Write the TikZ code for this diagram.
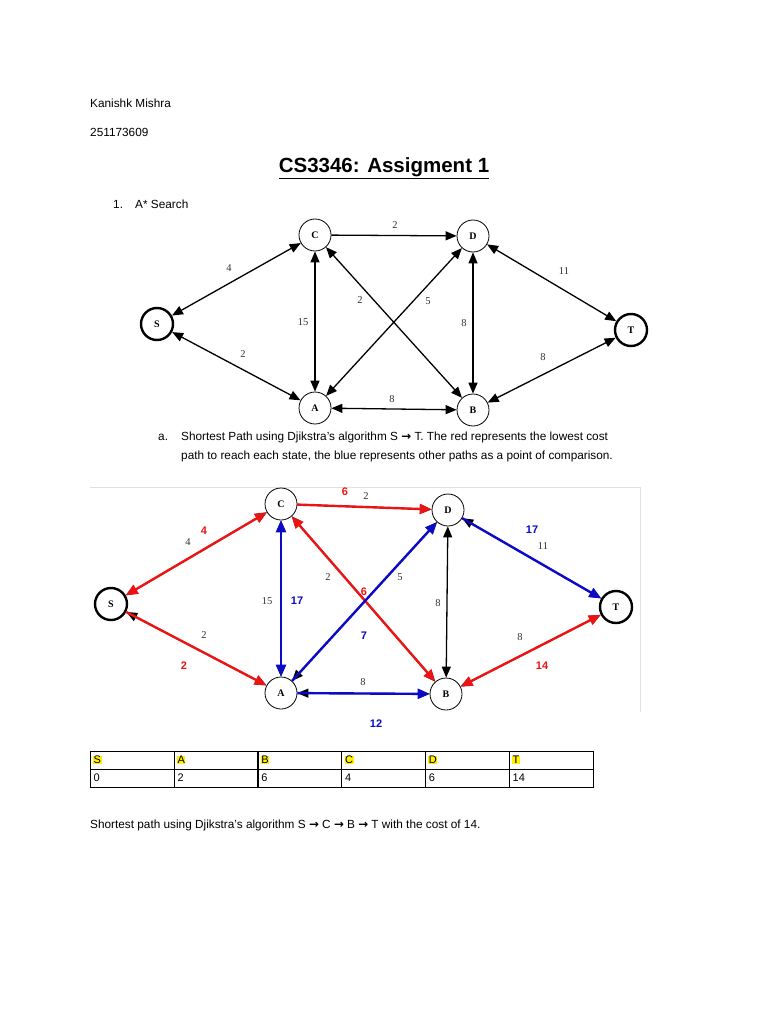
\documentclass[tikz,border=0pt]{standalone}
\usepackage{fontspec}
\setmainfont{Liberation Sans}
\newfontfamily\gfont{Liberation Serif}
\newfontfamily\symfont{DejaVu Sans}
\usetikzlibrary{arrows.meta}
\definecolor{rd}{RGB}{235,20,20}
\definecolor{bl}{RGB}{10,10,200}
\definecolor{hl}{RGB}{255,240,0}
\newcommand{\rarr}{{\symfont\bfseries →}}
\begin{document}
\begin{tikzpicture}[x=1pt,y=-1pt,
  txt/.style={anchor=west,inner sep=0pt,font=\fontsize{11.8}{14}\selectfont},
  vtx/.style={circle,draw,line width=0.8pt,minimum size=32pt,inner sep=0pt,font=\gfont\bfseries\fontsize{10}{10}\selectfont,fill=white},
  term/.style={vtx,line width=2.4pt},
  ed/.style={line width=1.3pt,{Triangle[length=11pt,width=9pt]}-{Triangle[length=11pt,width=9pt]}},
  ed1/.style={line width=1.3pt,-{Triangle[length=11pt,width=9pt]}},
  wl/.style={font=\gfont\fontsize{10.5}{10}\selectfont,inner sep=1pt,text=black!80},
  rl/.style={font=\bfseries\fontsize{11}{11}\selectfont,text=rd,inner sep=1pt},
  bll/.style={font=\bfseries\fontsize{11}{11}\selectfont,text=bl,inner sep=1pt},
  rA/.style={draw=rd,line width=2.4pt,-{Triangle[length=12pt,width=10pt]},color=rd},
  rAA/.style={draw=rd,line width=2.4pt,{Triangle[length=12pt,width=10pt]}-{Triangle[length=12pt,width=10pt]},color=rd},
  bA/.style={draw=bl,line width=2.4pt,-{Triangle[length=12pt,width=10pt]},color=bl},
  bAA/.style={draw=bl,line width=2.4pt,{Triangle[length=12pt,width=10pt]}-{Triangle[length=12pt,width=10pt]},color=bl},
  cell/.style={draw,line width=0.6pt,minimum width=84pt,minimum height=18pt,inner sep=0pt}]
\useasboundingbox[fill=white] (0,0) rectangle (768,1024);
\node[txt] (n1) at (90,103) {Kanishk Mishra};
\node[txt] (n2) at (90,132) {251173609};
\node[inner sep=0pt,font=\bfseries\fontsize{20.5}{24}\selectfont] (ttl) at (384,168) {\underline{CS3346: Assigment 1}};
\node[txt] (q1n) at (113,204) {1.};
\node[txt] (q1) at (135,204) {A* Search};
% top graph
\node[vtx] (C) at (315,235) {C};
\node[vtx] (D) at (473,236) {D};
\node[term] (S) at (157,324) {S};
\node[term] (T) at (631,330) {T};
\node[vtx] (A) at (315,408) {A};
\node[vtx] (B) at (473,410) {B};
\draw[ed] (S) -- (C); \draw[ed] (S) -- (A); \draw[ed] (C) -- (A);
\draw[ed1] (C) -- (D); \draw[ed] (C) -- (B); \draw[ed] (A) -- (D);
\draw[ed] (D) -- (B); \draw[ed] (D) -- (T); \draw[ed] (B) -- (T); \draw[ed] (A) -- (B);
\node[wl] (w1) at (229,268) {4}; \node[wl] (w2) at (243,354) {2};
\node[wl] (w3) at (303,322) {15}; \node[wl] (w4) at (395,225) {2};
\node[wl] (w5) at (360,300) {2}; \node[wl] (w6) at (428,301) {5};
\node[wl] (w7) at (464,323) {8}; \node[wl] (w8) at (564,271) {11};
\node[wl] (w9) at (543,357) {8}; \node[wl] (w10) at (392,399) {8};
\node[txt] (an) at (158,437) {a.};
\node[txt] (at1) at (181,437) {Shortest Path using Djikstra’s algorithm S \rarr\ T. The red represents the lowest cost};
\node[txt] (at2) at (181,456) {path to reach each state, the blue represents other paths as a point of comparison.};
% bottom graph
\draw[draw=black!12,line width=0.8pt] (90,487) -- (640,487) -- (640,712);
\node[vtx] (C2) at (281,504) {C};
\node[vtx] (D2) at (448,510) {D};
\node[term] (S2) at (111,604) {S};
\node[term] (T2) at (616,607) {T};
\node[vtx] (A2) at (281,693) {A};
\node[vtx] (B2) at (446,694) {B};
\draw[ed] (S2) -- (C2); \draw[ed] (S2) -- (A2); \draw[ed] (C2) -- (A2);
\draw[ed1] (C2) -- (D2); \draw[ed] (C2) -- (B2); \draw[ed] (A2) -- (D2);
\draw[ed] (D2) -- (B2); \draw[ed] (D2) -- (T2); \draw[ed] (B2) -- (T2); \draw[ed] (A2) -- (B2);
\draw[rAA] (S2) -- (C2);
\draw[rA] (C2) -- (D2);
\draw[bAA] (C2) -- (A2);
\draw[rAA] (C2) -- (B2);
\draw[bA] (A2) -- (D2);
\draw[bA] (D2) -- (T2);
\draw[rA] (S2) -- (A2);
\draw[rAA] (B2) -- (T2);
\draw[bA] (A2) -- (B2);
\node[wl] (x1) at (188,542) {4}; \node[wl] (x2) at (366,496) {2};
\node[wl] (x3) at (543,546) {11}; \node[wl] (x4) at (267,601) {15};
\node[wl] (x5) at (328,577) {2}; \node[wl] (x6) at (400,577) {5};
\node[wl] (x7) at (438,603) {8}; \node[wl] (x8) at (204,635) {2};
\node[wl] (x9) at (520,637) {8}; \node[wl] (x10) at (363,682) {8};
\node[rl] (c1) at (345,492) {6}; \node[rl] (c2) at (204,531) {4};
\node[bll] (c3) at (532,530) {17}; \node[bll] (c4) at (297,601) {17};
\node[rl] (c5) at (364,592) {6}; \node[bll] (c6) at (364,636) {7};
\node[rl] (c7) at (184,666) {2}; \node[rl] (c8) at (542,666) {14};
\node[bll] (c9) at (376,724) {12};
% table
\foreach \i/\h/\v in {0/S/0,1/A/2,2/B/6,3/C/4,4/D/6,5/T/14}{
  \node[cell] (h\i) at ({90+42+\i*83.8},760) {};
  \node[cell] (v\i) at ({90+42+\i*83.8},778) {};
  \node[anchor=west,inner sep=0.5pt,fill=hl,font=\fontsize{11}{12}\selectfont] (ht\i) at ({93+\i*83.8},760) {\h};
  \node[anchor=west,inner sep=0.5pt,font=\fontsize{11}{12}\selectfont] (vt\i) at ({93+\i*83.8},778) {\v};
}
\node[txt] (fin) at (90,825) {Shortest path using Djikstra’s algorithm S \rarr\ C \rarr\ B \rarr\ T with the cost of 14.};
\end{tikzpicture}
\end{document}
